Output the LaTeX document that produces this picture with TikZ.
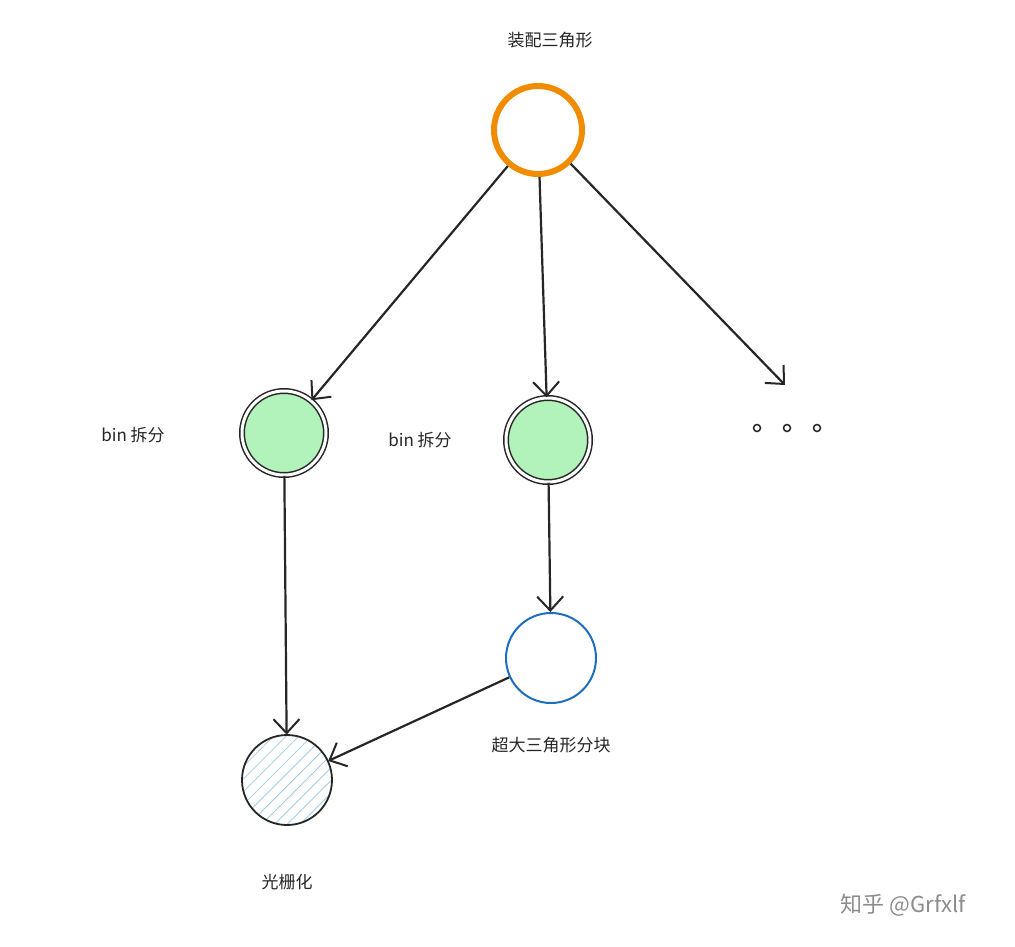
\documentclass[tikz,border=0pt]{standalone}
\usepackage{fontspec}
\setmainfont{Noto Sans CJK SC}
\usetikzlibrary{arrows.meta,patterns.meta}
\begin{document}
\begin{tikzpicture}[x=1pt,y=-1pt,
  lbl/.style={font=\fontsize{17}{20}\selectfont, text=black!85},
  arr/.style={draw=black!85, line width=2.2pt, -{Straight Barb[length=14pt,width=26pt,line width=2pt]}},
  gcirc/.style={circle, draw=black!85, line width=1.5pt, double=white, double distance=3pt, fill={rgb,255:red,178;green,242;blue,187}, minimum size=84pt, inner sep=0pt}
]
\useasboundingbox (0,0) rectangle (1015,946);
\node[circle, draw={rgb,255:red,240;green,140;blue,0}, line width=6pt, minimum size=88pt, inner sep=0pt] (top) at (538,130) {};
\node[lbl] (ttop) at (550,40) {装配三角形};
\node[gcirc] (g1) at (284,433) {};
\node[lbl] (tg1) at (133,435) {bin 拆分};
\node[gcirc] (g2) at (548,440) {};
\node[lbl] (tg2) at (420,440) {bin 拆分};
\coordinate (dots) at (785,385);
\foreach \x in {757,787,817} \draw[black!85, line width=1.5pt] (\x,428) circle (3.5pt);
\node[circle, draw={rgb,255:red,30;green,110;blue,190}, line width=2pt, minimum size=90pt, inner sep=0pt] (blue) at (551,658) {};
\node[lbl] (tblue) at (551,745) {超大三角形分块};
\node[circle, draw=black!85, line width=1.8pt, pattern={Lines[angle=45,distance=9pt,line width=0.8pt]}, pattern color={rgb,255:red,160;green,205;blue,235}, minimum size=90pt, inner sep=0pt] (r) at (287,780) {};
\node[lbl] (tr) at (287,882) {光栅化};
\node[font=\fontsize{22}{26}\selectfont, text=black!45] (wm) at (903,905) {知乎 @Grfxlf};
\draw[arr] (top) -- (g1);
\draw[arr] (top) -- (g2);
\draw[arr] (top) -- (dots);
\draw[arr] (g1) -- (r);
\draw[arr] (g2) -- (blue);
\draw[arr] (blue) -- (r);
\end{tikzpicture}
\end{document}
